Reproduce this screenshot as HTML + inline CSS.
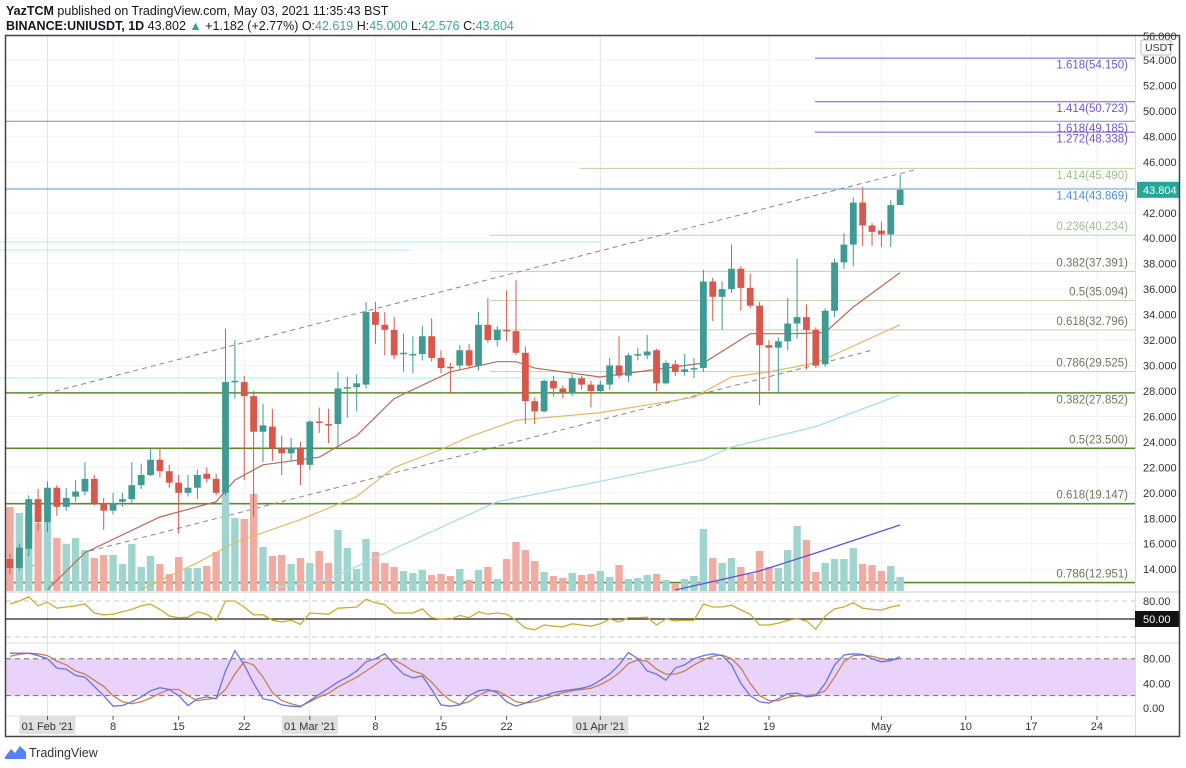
<!DOCTYPE html>
<html><head><meta charset="utf-8">
<style>
html,body{margin:0;padding:0;background:#fff;}
svg{display:block;font-family:"Liberation Sans",sans-serif;}
</style></head>
<body>
<svg id="chart" width="1186" height="768" viewBox="0 0 1186 768" xmlns="http://www.w3.org/2000/svg">
<text x="6" y="15" font-size="12.5" fill="#131722"><tspan font-weight="bold">YazTCM</tspan> published on TradingView.com, May 03, 2021 11:35:43 BST</text>
<text x="6" y="30" font-size="12.5" fill="#131722"><tspan font-weight="bold">BINANCE:UNIUSDT, 1D</tspan> 43.802 <tspan fill="#26a69a">▲</tspan> +1.182 (+2.77%) O:<tspan fill="#3aa8a0">42.619</tspan> H:<tspan fill="#3aa8a0">45.000</tspan> L:<tspan fill="#3aa8a0">42.576</tspan> C:<tspan fill="#3aa8a0">43.804</tspan></text>
<g id="grid"></g>
<g id="fibs"></g>
<g id="vol"></g>
<g id="lines"></g>
<g id="candles"></g>
<g id="ind"></g>
<g id="axes"></g>
<rect x="5.5" y="35.5" width="1174" height="701" fill="none" stroke="#444" stroke-width="1.5"/>
<g>
<path d="M5 757 L11 749 L15 753 L20 746 L26 752 L26 759 L5 759 Z" fill="#2962ff" opacity="0.8"/>
<text x="29" y="757" font-size="12.5" fill="#333">TradingView</text>
</g>
</svg>
<script>
const NS="http://www.w3.org/2000/svg";
const opens=[14.8,14.1,15.6,19.5,17.7,20.4,18.9,19.7,20.1,21.1,19.2,18.6,19.3,19.5,20.6,21.4,22.6,21.7,20.8,20.0,20.4,21.5,21.1,20.0,28.7,28.7,27.6,24.8,25.2,23.5,23.1,23.5,22.2,25.6,25.4,25.4,28.2,28.3,28.5,34.2,33.2,32.8,30.9,30.9,30.9,32.3,30.6,29.9,30.0,31.2,30.0,33.2,32.0,32.8,32.7,31.0,27.2,26.4,28.8,28.2,27.9,29.0,28.5,28.0,28.5,30.0,29.2,30.8,30.8,31.2,28.6,30.1,29.5,29.7,29.8,36.6,35.4,36.0,37.6,36.1,34.7,31.6,31.4,31.9,33.3,33.8,32.8,30.1,34.3,38.1,39.5,42.8,41.0,40.6,40.3,42.6];
const closes=[14.1,15.7,19.5,17.7,20.4,18.9,19.6,20.1,21.1,19.2,18.6,19.2,19.5,20.6,21.4,22.6,21.7,20.8,20.0,20.4,21.4,21.1,20.0,28.7,28.8,27.6,24.8,25.3,23.5,23.1,23.5,22.2,25.6,25.5,25.3,28.2,28.3,28.6,34.2,33.2,32.8,30.8,31.0,30.9,32.3,30.6,29.8,29.8,31.2,30.0,33.2,32.0,32.8,32.7,31.0,27.2,26.4,28.8,28.2,27.9,29.0,28.5,28.0,28.5,30.0,29.2,30.8,30.9,31.1,28.6,30.2,29.5,29.7,29.8,36.6,35.4,36.0,37.6,36.1,34.7,31.6,31.4,31.9,33.3,33.8,32.8,30.0,34.3,38.1,39.5,42.8,41.0,40.5,40.3,42.6,43.8];
const highs=[15.2,16.0,19.8,20.3,20.9,20.6,20.4,21.0,22.4,21.4,19.6,20.0,20.0,22.4,22.3,23.5,23.5,22.2,21.4,21.4,21.8,22.0,21.5,32.9,32.0,29.2,28.0,27.0,26.6,24.5,24.3,24.0,25.7,26.7,26.6,29.5,29.1,29.3,35.0,35.0,34.2,33.8,32.5,32.3,33.1,33.7,31.2,30.2,31.6,31.7,34.2,35.3,33.1,35.9,36.7,31.5,27.5,28.9,29.2,28.4,29.3,29.2,28.8,28.8,30.6,32.3,31.0,31.4,32.4,31.3,30.4,30.4,30.9,30.6,37.5,36.9,36.6,39.5,37.8,37.2,35.0,32.0,32.2,35.3,38.4,34.8,33.0,34.5,38.4,40.4,43.2,44.0,41.2,41.3,43.0,45.0];
const lows=[13.6,13.9,15.0,17.0,16.9,18.2,18.6,19.3,19.8,19.0,17.1,18.3,18.9,19.1,20.3,21.3,21.2,20.4,16.8,19.7,19.5,20.8,19.8,19.8,27.4,21.0,18.1,22.4,22.5,21.4,22.5,20.6,21.8,24.7,23.9,23.6,25.9,26.4,28.2,31.7,30.8,30.5,29.5,29.4,30.4,30.3,29.4,27.9,29.7,29.8,29.6,31.8,31.5,31.9,30.8,25.4,25.4,26.3,27.6,27.4,27.6,28.1,26.7,27.8,28.1,29.0,28.7,30.4,30.5,28.0,28.5,29.2,29.2,29.0,29.5,33.5,32.8,35.7,34.3,34.5,26.9,28.0,27.9,31.2,32.1,29.7,29.8,29.9,33.8,37.6,37.8,39.4,39.4,39.3,39.3,42.6];
const volumes=[84,78,76,68,69,53,47,53,41,33,36,36,27,47,24,35,27,17,34,23,23,25,39,98,73,72,97,44,35,36,27,33,28,40,28,61,43,22,52,39,28,24,20,18,21,16,17,15,22,11,21,24,12,32,49,41,30,19,15,13,18,16,17,20,14,26,12,13,16,17,11,8,12,15,62,33,28,33,24,17,40,24,23,41,65,51,19,28,32,32,43,27,26,20,25,14];
const rsiValues=[75,80,87,72,78,68,70,72,75,60,57,58,62,66,72,75,66,55,52,53,62,58,47,80,80,70,57,57,48,45,48,41,60,59,58,68,69,70,83,77,74,60,60,60,67,52,50,49,56,52,62,58,60,58,48,35,32,40,38,37,42,40,38,42,50,45,52,52,53,40,50,47,48,48,75,70,70,73,65,58,40,40,43,48,50,47,33,55,67,70,77,68,66,65,70,73];
const stochK=[89,89,89,85,80,65,63,53,50,35,20,3,4,10,18,28,33,30,20,4,15,18,15,60,93,70,40,15,12,5,3,2,12,22,32,42,50,60,75,80,88,70,55,49,52,30,5,3,5,20,28,30,25,10,3,8,15,20,25,28,30,32,36,45,55,70,90,80,60,55,45,65,70,80,85,88,85,70,40,20,10,8,15,23,24,18,20,40,70,86,88,87,80,75,77,83];
const stochD=[84,87,89,88,85,76,70,60,55,45,35,20,10,7,10,16,24,30,30,20,12,14,16,30,55,75,70,50,25,12,7,3,10,18,24,34,42,50,60,70,81,78,70,60,55,42,25,12,6,10,20,28,28,20,10,8,10,15,20,25,28,30,32,38,46,57,72,78,76,63,55,55,60,70,78,84,86,80,65,40,20,12,12,17,20,20,22,28,50,75,85,86,84,80,78,80];
const ema20Idx=[4,8,16,22,24,27,33,37,41,47,52,54,56,63,68,74,79,84,87,90,95];
const ema20Val=[12.4,15.3,18.1,19.3,21.0,22.2,22.8,24.5,27.4,29.5,30.3,30.3,29.8,29.1,29.6,30.2,32.5,32.5,32.6,34.6,37.3];
const sma50Idx=[14,20,24,31,37,41,46,49,54,63,73,77,81,86,95];
const sma50Val=[12.4,14.5,16.1,17.9,19.7,22.0,23.4,24.4,25.7,26.3,27.5,29.1,29.5,30.2,33.2];
const ma200Idx=[27,34,41,52,63,74,77,86,95];
const ma200Val=[12.4,13.2,15.6,19.3,20.9,22.6,23.6,25.2,27.7];
const volMaIdx=[71,80,86,95];
const volMaVal=[1,20,38,66];
const fibRatios=["1.618","1.414","1.618","1.272","1.414","1.414","0.236","0.382","0.5","0.618","0.786","0.382","0.5","0.618","0.786"];
const fibPrices=[54.150,50.723,49.185,48.338,45.490,43.869,40.234,37.391,35.094,32.796,29.525,27.852,23.500,19.147,12.951];
const priceTicks=[54,52,50,48,46,44,42,40,38,36,34,32,30,28,26,24,22,20,18,16,14];
const dateLabels=["01 Feb '21","8","15","22","01 Mar '21","8","15","22","01 Apr '21","12","19","May","10","17","24"];
const dateIdx=[4,11,18,25,32,39,46,53,63,74,81,93,102,109,116];

const X=i=>10+i*9.37;
const Y=p=>60+(54-p)*12.73;
const VY=v=>591-v;
const RY=v=>619-(v-50)*0.6;
const SY=v=>708-v*0.616;
const PLOT_R=1135;

function mk(tag,attrs,parent){const e=document.createElementNS(NS,tag);for(const k in attrs)e.setAttribute(k,attrs[k]);parent.appendChild(e);return e;}
const g=id=>document.getElementById(id);

const grid=g('grid');
priceTicks.forEach(p=>{const l=mk('line',{x1:6,x2:PLOT_R,y1:Y(p),y2:Y(p),stroke:'#f0f2f5'},grid);

});
dateIdx.forEach((d,k)=>{const major=dateLabels[k].length>3;const l=mk('line',{x1:X(d),x2:X(d),y1:36,y2:716,stroke:major?'#e0e3e8':'#f0f2f5'},grid);

});
[[242,0,600],[250,0,410],[378,0,600]].forEach(a=>{const l=mk('line',{x1:a[1],x2:a[2],y1:a[0],y2:a[0],stroke:'#9ff4f7','stroke-width':1},grid);

});

const fibs=g('fibs');
fibPrices.forEach((p,k)=>{
  const r=fibRatios[k];let col,sx,w=1;
  if(k<=3&&k!=2){col='#7e57c2';sx=815;}
  else if(k==2||k==5){col='#5b9bd5';sx=6;}
  else if(k==4){col='#b9d3a3';sx=580;}
  else if(k<=10){col='#c2d1b0';sx=490;}
  else {col='#5f8a2c';sx=6;w=1.6;}
  const l=mk('line',{x1:sx,x2:PLOT_R,y1:Y(p),y2:Y(p),stroke:col,'stroke-width':w},fibs);
  
  
  let tc=k<=3?'#6a5acd':(k==2||k==5)?'#4f8fcf':(k==4||k==6)?'#9cc08a':'#6b7a5a';
  const below=(k<=5)||k==11;
  const t=mk('text',{x:1128,y:below?Y(p)+10.5:Y(p)-5,'text-anchor':'end','font-size':'11.5',fill:tc},fibs);
  t.textContent=r+'('+p.toFixed(3)+')';
  
  
});
[[2,27.45,96.5,45.36],[2,14.2,92,31.2]].forEach(t=>{const l=mk('line',{x1:X(t[0]),y1:Y(t[1]),x2:X(t[2]),y2:Y(t[3]),stroke:'#888','stroke-dasharray':'5,4','stroke-width':1},fibs);

});

const vg=g('vol');
volumes.forEach((v,i)=>{const up=closes[i]>=opens[i];const r=mk('rect',{x:X(i)-3.7,y:VY(v),width:7.4,height:v,fill:up?'#9fd4cf':'#f2aba3'},vg);

});

const lg=g('lines');
function poly(idx,val,yf,col,w,name){const pts=idx.map((d,k)=>X(d).toFixed(1)+','+yf(val[k]).toFixed(1)).join(' ');const p=mk('polyline',{points:pts,fill:'none',stroke:col,'stroke-width':w},lg);

}
poly(ma200Idx,ma200Val,Y,'#a9dcef',1.3,'ma200-line');
poly(sma50Idx,sma50Val,Y,'#e3b866',1.2,'sma50-line');
poly(ema20Idx,ema20Val,Y,'#b86a5a',1.2,'ema20-line');
poly(volMaIdx,volMaVal,VY,'#5c52d6',1.3,'volume-ma-line');

const cg=g('candles');
opens.forEach((o,i)=>{const c=closes[i];const up=c>=o;const col=up?'#3f9a93':'#d9574b';const x=X(i);
const w=mk('line',{x1:x,x2:x,y1:Y(highs[i]),y2:Y(lows[i]),stroke:col,'stroke-width':1},cg);


const top=Y(Math.max(o,c)),bh=Math.max(1.5,Math.abs(Y(o)-Y(c)));
const b=mk('rect',{x:x-3.4,y:top,width:6.8,height:bh,fill:col},cg);

});

const ig=g('ind');
[[592,'#ccc',0],[643,'#ddd',0]].forEach(a=>{const l=mk('line',{x1:6,x2:1180,y1:a[0],y2:a[0],stroke:a[1]},ig);

});
const band=mk('rect',{x:6,y:SY(80),width:PLOT_R-6,height:SY(20)-SY(80),fill:'#e9d3fb'},ig);


[[RY(80),1],[RY(20),1],[SY(80),2],[SY(20),2]].forEach(a=>{const l=mk('line',{x1:6,x2:PLOT_R,y1:a[0],y2:a[0],stroke:a[1]==1?'#c8c8c8':'#7a6a80','stroke-dasharray':'5,4'},ig);

});
const l50=mk('line',{x1:6,x2:1140,y1:RY(50),y2:RY(50),stroke:'#222','stroke-width':1.2},ig);


function seq(arr,yf,col,name){const pts=arr.map((v,i)=>X(i).toFixed(1)+','+yf(v).toFixed(1)).join(' ');const p=mk('polyline',{points:pts,fill:'none',stroke:col,'stroke-width':1.3},ig);

}
seq(rsiValues,RY,'#c9ad2e','rsi-line');
seq(stochD,SY,'#c4814f','stoch-d-line');
seq(stochK,SY,'#6a73e0','stoch-k-line');

const ag=g('axes');
const sep=mk('line',{x1:PLOT_R+0.5,x2:PLOT_R+0.5,y1:36,y2:736,stroke:'#ddd'},ag);


const tb=mk('line',{x1:6,x2:PLOT_R,y1:716,y2:716,stroke:'#ddd'},ag);


const t56=mk('text',{x:1143,y:40,'font-size':11,fill:'#333'},ag);t56.textContent='56.000';


const ub=mk('rect',{x:1141,y:40,width:30,height:15,fill:'#fff',stroke:'#bbb',rx:2},ag);


const ut=mk('text',{x:1145,y:51,'font-size':10.5,fill:'#333'},ag);ut.textContent='USDT';


priceTicks.forEach(p=>{const t=mk('text',{x:1143,y:Y(p)+4,'font-size':11,fill:'#333'},ag);t.textContent=p.toFixed(3);

});
const pt=mk('rect',{x:1137,y:Y(43.804)-8,width:42,height:16,fill:'#26a69a'},ag);


const ptt=mk('text',{x:1143,y:Y(43.804)+4,'font-size':11,fill:'#fff'},ag);ptt.textContent='43.804';


[[RY(80),'80.00'],[SY(80),'80.00'],[SY(40),'40.00'],[SY(0),'0.00']].forEach(a=>{const t=mk('text',{x:1143,y:a[0]+4,'font-size':11,fill:'#333'},ag);t.textContent=a[1];

});
const rt=mk('rect',{x:1135,y:RY(50)-8,width:44,height:16,fill:'#111'},ag);


const rtt=mk('text',{x:1143,y:RY(50)+4,'font-size':11,fill:'#fff'},ag);rtt.textContent='50.00';


dateLabels.forEach((d,k)=>{const x=X(dateIdx[k]);const major=d.length>3;
if(major){const r=mk('rect',{x:x-28,y:716,width:56,height:18,fill:'#e0e0e0'},ag);

}
const tk=mk('line',{x1:x,x2:x,y1:716,y2:720,stroke:'#555'},ag);


const t=mk('text',{x:x,y:730,'font-size':11,'text-anchor':'middle',fill:'#333'},ag);t.textContent=d;

});
</script>
</body></html>
